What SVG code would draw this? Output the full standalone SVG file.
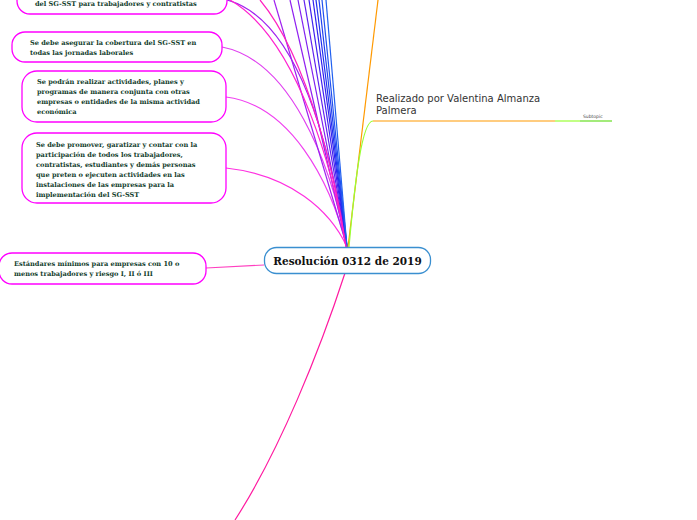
<svg xmlns="http://www.w3.org/2000/svg" width="697" height="520" viewBox="0 0 697 520">
<style>
.n{fill:#fff;stroke:#f0f;stroke-width:1.3}
.t{font-family:"DejaVu Serif",serif;font-weight:bold;font-size:6.6px;fill:#123d2c}
.c{fill:none;stroke-width:1.2}
</style>
<rect width="697" height="520" fill="#fff"/>
<g id="connectors">
<path class="c" stroke="#a020f0" d="M227,0 C300,20 330,150 347,247"/>
<path class="c" stroke="#e040f0" d="M222,47 C290,60 330,160 347,247"/>
<path class="c" stroke="#f040f0" d="M226,97 C290,105 330,180 347,247"/>
<path class="c" stroke="#ff30e0" d="M226,168 C290,175 330,210 347,247"/>
<path class="c" stroke="#a020f0" d="M274,0 L347,247"/>
<path class="c" stroke="#9020f0" d="M290,0 L347,247"/>
<path class="c" stroke="#8020f0" d="M298,0 L347,247"/>
<path class="c" stroke="#6020f0" d="M304,0 L347,247"/>
<path class="c" stroke="#4020f0" d="M309,0 L347,247"/>
<path class="c" stroke="#3020f0" d="M313,0 L347,247"/>
<path class="c" stroke="#2030f0" d="M316,0 L347,247"/>
<path class="c" stroke="#2040f0" d="M319,0 L347,247"/>
<path class="c" stroke="#2050f0" d="M322,0 L347,247"/>
<path class="c" stroke="#2060f0" d="M326,0 L347,247"/>
<path class="c" stroke="#ff20d0" d="M230,0 C300,40 335,180 346,247"/>
<path class="c" stroke="#ff20c0" d="M260,0 C310,60 338,190 346,247"/>
<path class="c" stroke="#f90" stroke-width="1.5" d="M378,0 L348,247"/>
<path class="c" stroke="#9f3" d="M349,247 C355,180 362,121 373,121"/>
<path class="c" stroke="#f90" stroke-width="1.5" d="M373,121 L555,121"/>
<path class="c" stroke="#9f3" d="M555,121 L580,121"/>
<path class="c" stroke="#6d2" stroke-width="1.5" d="M580,121 L612,121"/>
<path class="c" stroke="#ff1aa0" stroke-width="1.5" d="M345,273 C320,350 280,450 235,520"/>
<path class="c" stroke="#ff40c0" d="M206,268 L264,265"/>
</g>
<g id="n0"><rect class="n" x="17" y="-20" width="210" height="34" rx="13"/>
<text class="t" x="35" y="6">del SG-SST para trabajadores y contratistas</text></g>
<g id="n1"><rect class="n" x="12" y="32" width="210" height="30" rx="13"/>
<text class="t" x="30" y="45">Se debe asegurar la cobertura del SG-SST en</text>
<text class="t" x="30" y="55">todas las jornadas laborales</text></g>
<g id="n2"><rect class="n" x="22" y="71" width="204" height="51" rx="15"/>
<text class="t" x="37" y="84">Se podrán realizar actividades, planes y</text>
<text class="t" x="37" y="94">programas de manera conjunta con otras</text>
<text class="t" x="37" y="104">empresas o entidades de la misma actividad</text>
<text class="t" x="37" y="114">económica</text></g>
<g id="n3"><rect class="n" x="22" y="133" width="204" height="70" rx="15"/>
<text class="t" x="36" y="147">Se debe promover, garatizar y contar con la</text>
<text class="t" x="36" y="157">participación de todos los trabajadores,</text>
<text class="t" x="36" y="167">contratistas, estudiantes y demás personas</text>
<text class="t" x="36" y="177">que preten o ejecuten actividades en las</text>
<text class="t" x="36" y="187">instalaciones de las empresas para la</text>
<text class="t" x="36" y="197">implementación del SG-SST</text></g>
<g id="n4"><rect class="n" x="-1" y="253" width="207" height="31" rx="13"/>
<text class="t" x="14" y="266">Estándares mínimos para empresas con 10 o</text>
<text class="t" x="14" y="276">menos trabajadores y riesgo I, II ó III</text></g>
<g id="center"><rect x="264.5" y="247.5" width="166" height="26" rx="12" fill="#fff" stroke="#3a8fd0" stroke-width="1.3"/>
<text x="347.5" y="264.5" text-anchor="middle" font-family="DejaVu Serif,serif" font-weight="bold" font-size="10.5" fill="#111">Resolución 0312 de 2019</text></g>
<g id="author"><text font-family="DejaVu Sans,sans-serif" font-size="10" fill="#333"><tspan x="376" y="102">Realizado por Valentina Almanza</tspan><tspan x="376" y="114">Palmera</tspan></text></g>
<g id="sub"><text x="583" y="118" font-family="DejaVu Sans,sans-serif" font-size="4.5" fill="#444">Subtopic</text></g>
</svg>
